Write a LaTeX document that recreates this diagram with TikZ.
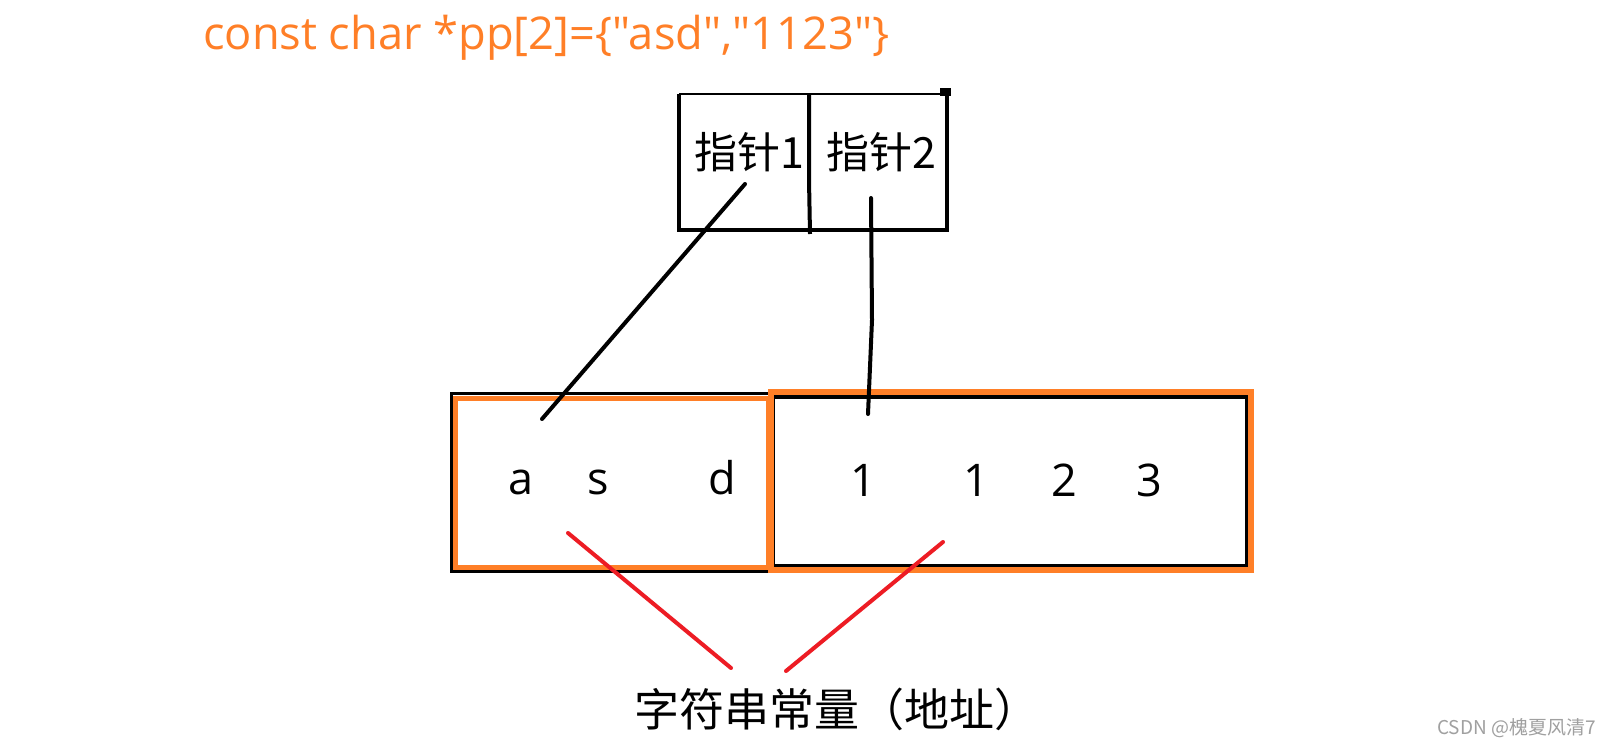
\documentclass[tikz,border=0pt]{standalone}
\usepackage{fontspec}
\setmainfont{Open Sans}[Ligatures=TeXOff]
\newfontfamily\cjk{Noto Sans CJK SC}
\definecolor{orng}{HTML}{FF7F27}
\definecolor{rred}{HTML}{ED1C24}
\definecolor{wm}{HTML}{A0A0A0}
\begin{document}
\begin{tikzpicture}[x=1pt,y=-1pt,
  big/.style={font=\fontsize{45}{50}\selectfont, inner sep=0pt, anchor=base},
  cjkbig/.style={font=\cjk\fontsize{43}{50}\selectfont, inner sep=0pt},
  ptr/.style={line width=4pt, black, line cap=round},
  red/.style={line width=4pt, rred, line cap=round},
  strbox/.style={draw, inner sep=0pt, anchor=center}]
\useasboundingbox (0,0) rectangle (1611,746);
\fill[white] (0,0) rectangle (1611,746);
% title
\node[font=\fontsize{45.2}{52}\selectfont, inner sep=0pt, text=orng, anchor=base west] (title) at (203,50) {const char *pp[2]=\{"asd","1123"\}};
% pointer array box
\draw[line width=4pt] (679,94) -- (679,230) -- (947,230) -- (947,94);
\draw[line width=2pt] (679,94) -- (947,94);
\fill (940,88) rectangle (951,96);
\draw[line width=4pt] (809,94) -- (809,180) -- (810,234);
\node[cjkbig] (p1) at (749,152) {指针1};
\node[cjkbig] (p2) at (881,152) {指针2};
% string boxes
\node[strbox, line width=3pt, minimum width=320pt, minimum height=178pt] (blkL) at (611,482.5) {};
\node[strbox, draw=orng, line width=5pt, minimum width=313pt, minimum height=169pt] (orL) at (611.5,483) {};
\node[strbox, line width=4pt, minimum width=474pt, minimum height=169pt] (blkR) at (1010,481.5) {};
\node[strbox, draw=orng, line width=6pt, minimum width=480pt, minimum height=178pt] (orR) at (1011,481) {};
% characters
\node[big] (ca) at (521,494) {a};
\node[big] (cs) at (598,494) {s};
\node[big] (cd) at (722,494) {d};
\node[big] (c1) at (863,496) {1};
\node[big] (c2) at (976,496) {1};
\node[big] (c3) at (1064,496) {2};
\node[big] (c4) at (1149,496) {3};
% pointer lines
\coordinate (p1s) at (745,184);
\coordinate (p1e) at (542,419);
\coordinate (p2s) at (871,198);
\coordinate (p2e) at (868,414);
\draw[ptr] (p1s) -- (p1e);
\draw[ptr] (p2s) -- (872,320) -- (p2e);
% label
\node[cjkbig, font=\cjk\fontsize{45}{50}\selectfont, anchor=west] (lbl) at (634,709) {字符串常量（地址）};
\coordinate (r1s) at (568,533);
\coordinate (r1e) at (731,668);
\coordinate (r2s) at (943,542);
\coordinate (r2e) at (786,671);
\draw[red] (r1s) -- (r1e);
\draw[red] (r2s) -- (r2e);
% watermark
\node[text=wm, font=\cjk\fontsize{19}{22}\selectfont, anchor=east, inner sep=0pt] (wmk) at (1596,728) {CSDN @槐夏风清7};
\end{tikzpicture}
\end{document}
